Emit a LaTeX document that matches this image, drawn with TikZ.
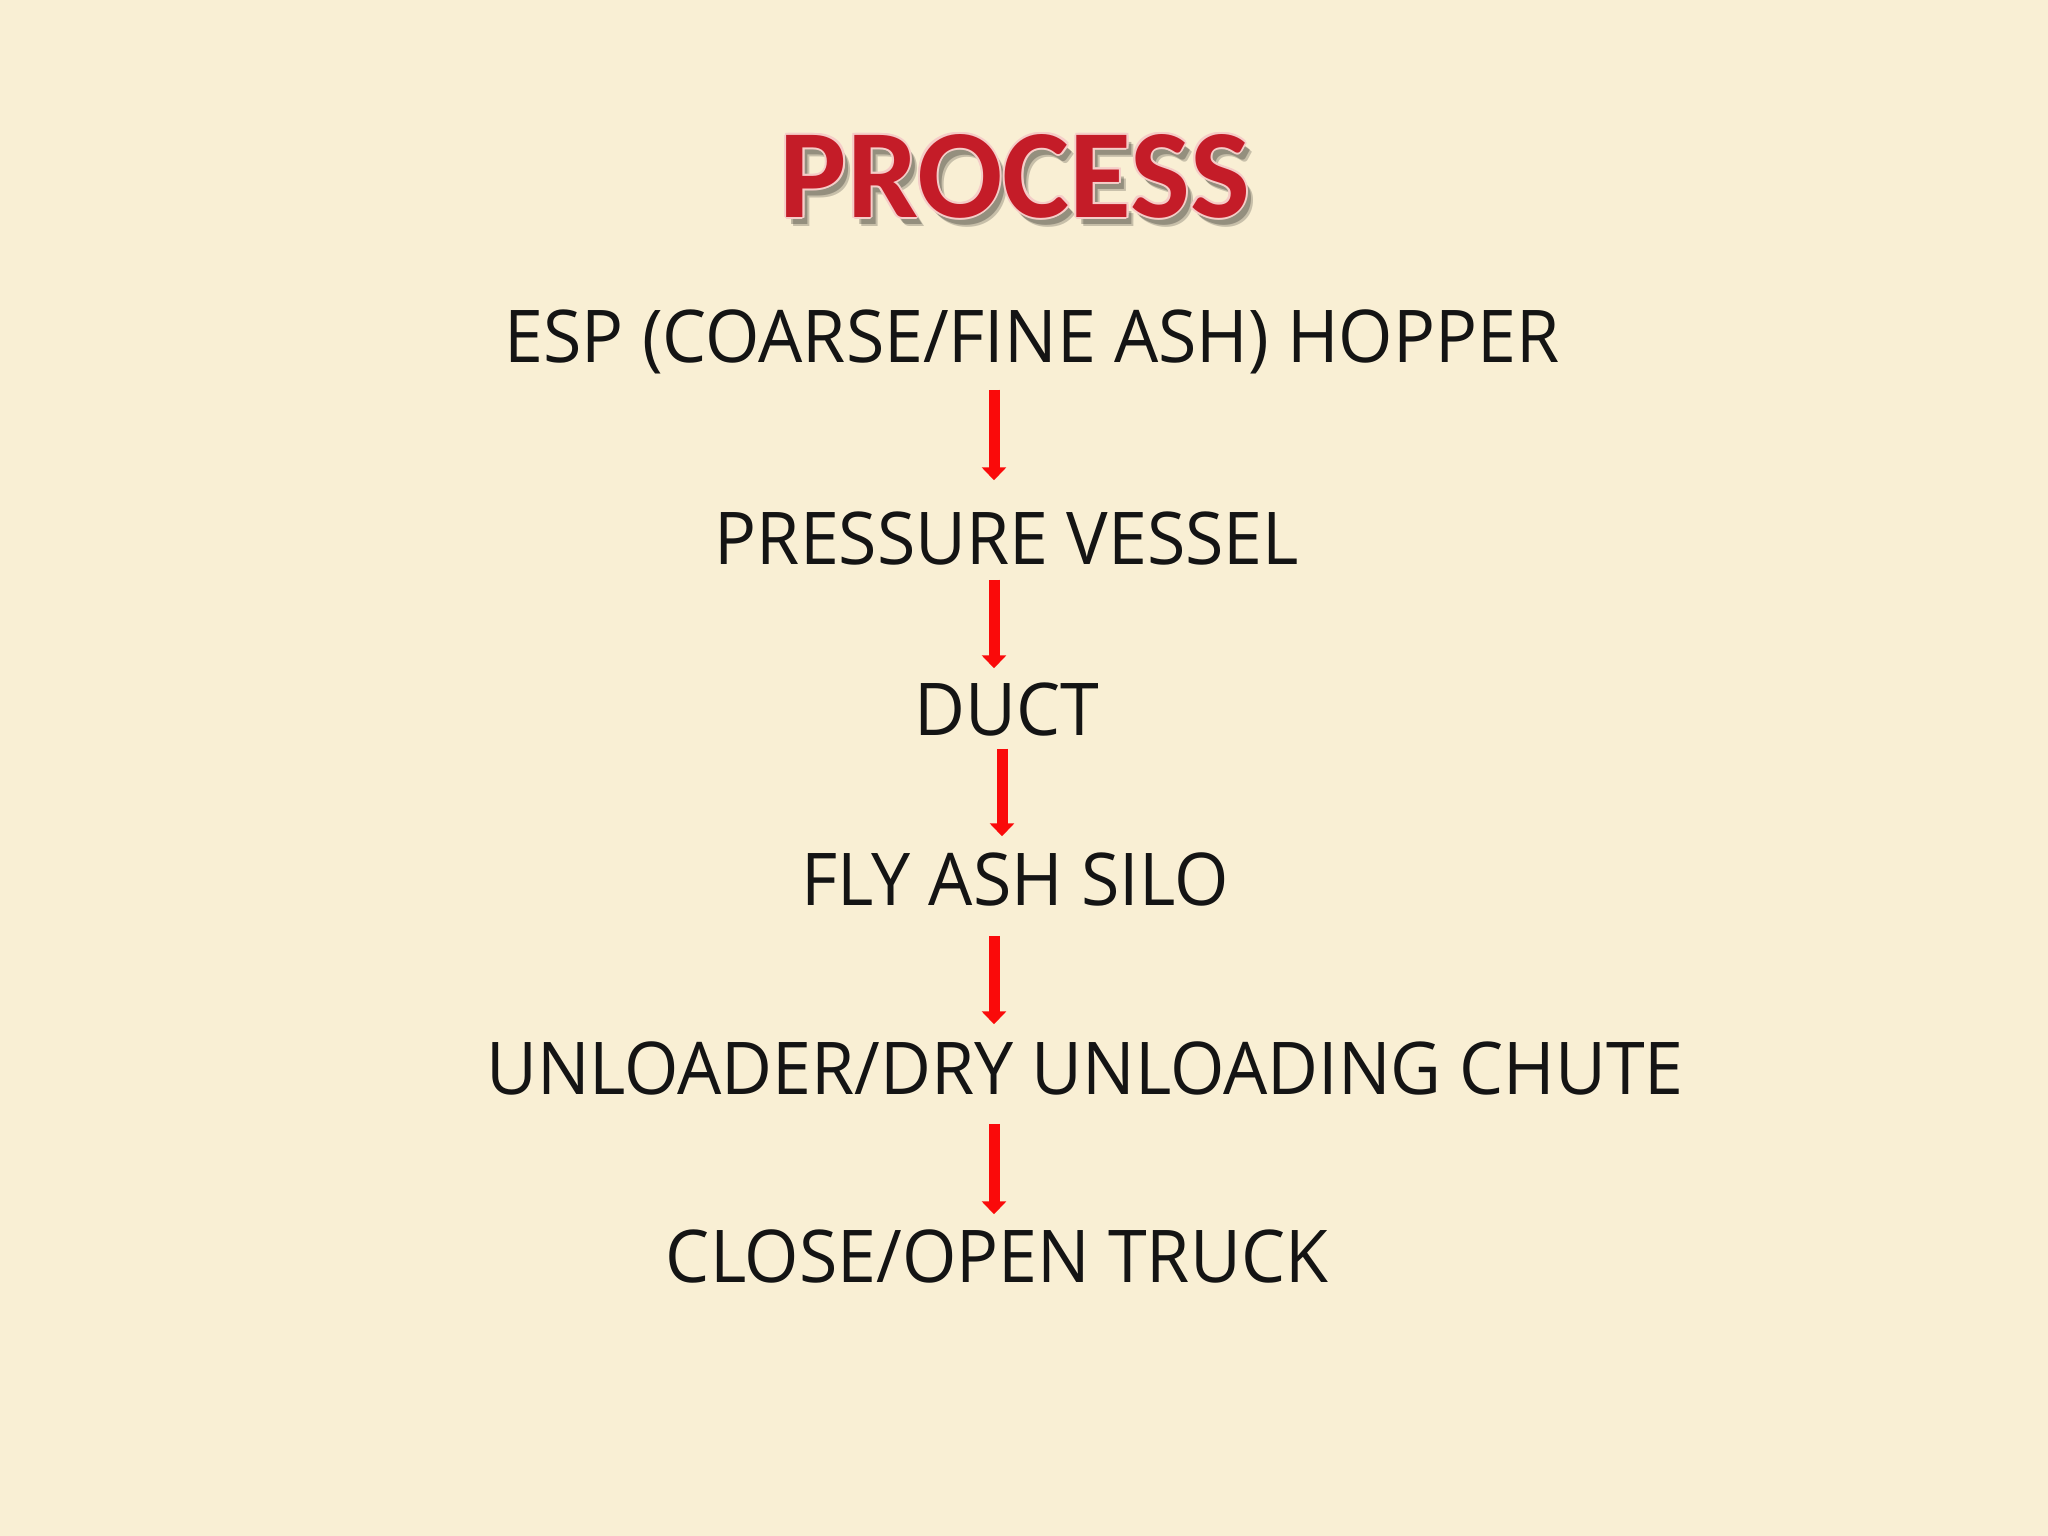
\documentclass[tikz,border=0pt]{standalone}
\usepackage{fontspec}
\setmainfont{Open Sans}
\newfontfamily\bodyfont[FakeStretch=0.96]{Open Sans}
\newfontfamily\titlefont{Carlito}
\usetikzlibrary{arrows.meta}
\definecolor{bg}{RGB}{249,239,212}
\definecolor{arrowred}{RGB}{250,10,10}
\definecolor{titlered}{RGB}{196,28,40}
\definecolor{titleedge}{RGB}{245,205,200}
\tikzset{
  stepline/.style={font=\bodyfont\fontsize{20.7}{24}\selectfont, text=black!92,
    inner sep=0pt, text height=0.52cm, text depth=0pt},
  titletext/.style={font=\titlefont\bfseries\fontsize{36}{42}\selectfont, inner sep=0pt},
  flow/.style={draw=arrowred, line width=0.11cm,
    -{Triangle[width=0.24cm,length=0.13cm]}}
}
\begin{document}
\begin{tikzpicture}[x=0.01cm,y=-0.01cm]
\fill[bg] (0,0) rectangle (2048,1536);
\useasboundingbox (0,0) rectangle (2048,1536);
% title
\node[titletext, text=black, opacity=0.25] (tsh1) at (1020,183) {PROCESS};
\node[titletext, text=black, opacity=0.2] (tsh2) at (1022,185) {PROCESS};
\foreach \dx/\dy [count=\i] in {-2/0,2/0,0/-2,0/2,-1.5/-1.5,1.5/1.5,-1.5/1.5,1.5/-1.5}
  \node[titletext, text=titleedge] (tedge\i) at (1015+\dx,176+\dy) {PROCESS};
\node[titletext, text=titlered] (title) at (1015,176) {PROCESS};
% steps
\node[stepline] (s1) at (1032,336) {ESP (COARSE/FINE ASH) HOPPER};
\node[stepline] (s2) at (1007,538) {PRESSURE VESSEL};
\node[stepline] (s3) at (1007,709) {DUCT};
\node[stepline] (s4) at (1015,879) {FLY ASH SILO};
\node[stepline] (s5) at (1085,1068) {UNLOADER/DRY UNLOADING CHUTE};
\node[stepline] (s6) at (997,1256) {CLOSE/OPEN TRUCK};
% arrows
\coordinate (c1) at (994,0);
\coordinate (c3) at (1002,0);
\draw[flow, shorten <=0.27cm, shorten >=0.31cm] (s1.south -| c1) -- (s2.north -| c1);
\draw[flow, shorten <=0.15cm, shorten >=0.14cm] (s2.south -| c1) -- (s3.north -| c1);
\draw[flow, shorten <=0.13cm, shorten >=0.16cm] (s3.south -| c3) -- (s4.north -| c3);
\draw[flow, shorten <=0.30cm, shorten >=0.17cm] (s4.south -| c1) -- (s5.north -| c1);
\draw[flow, shorten <=0.29cm, shorten >=0.15cm] (s5.south -| c1) -- (s6.north -| c1);
\end{tikzpicture}
\end{document}
